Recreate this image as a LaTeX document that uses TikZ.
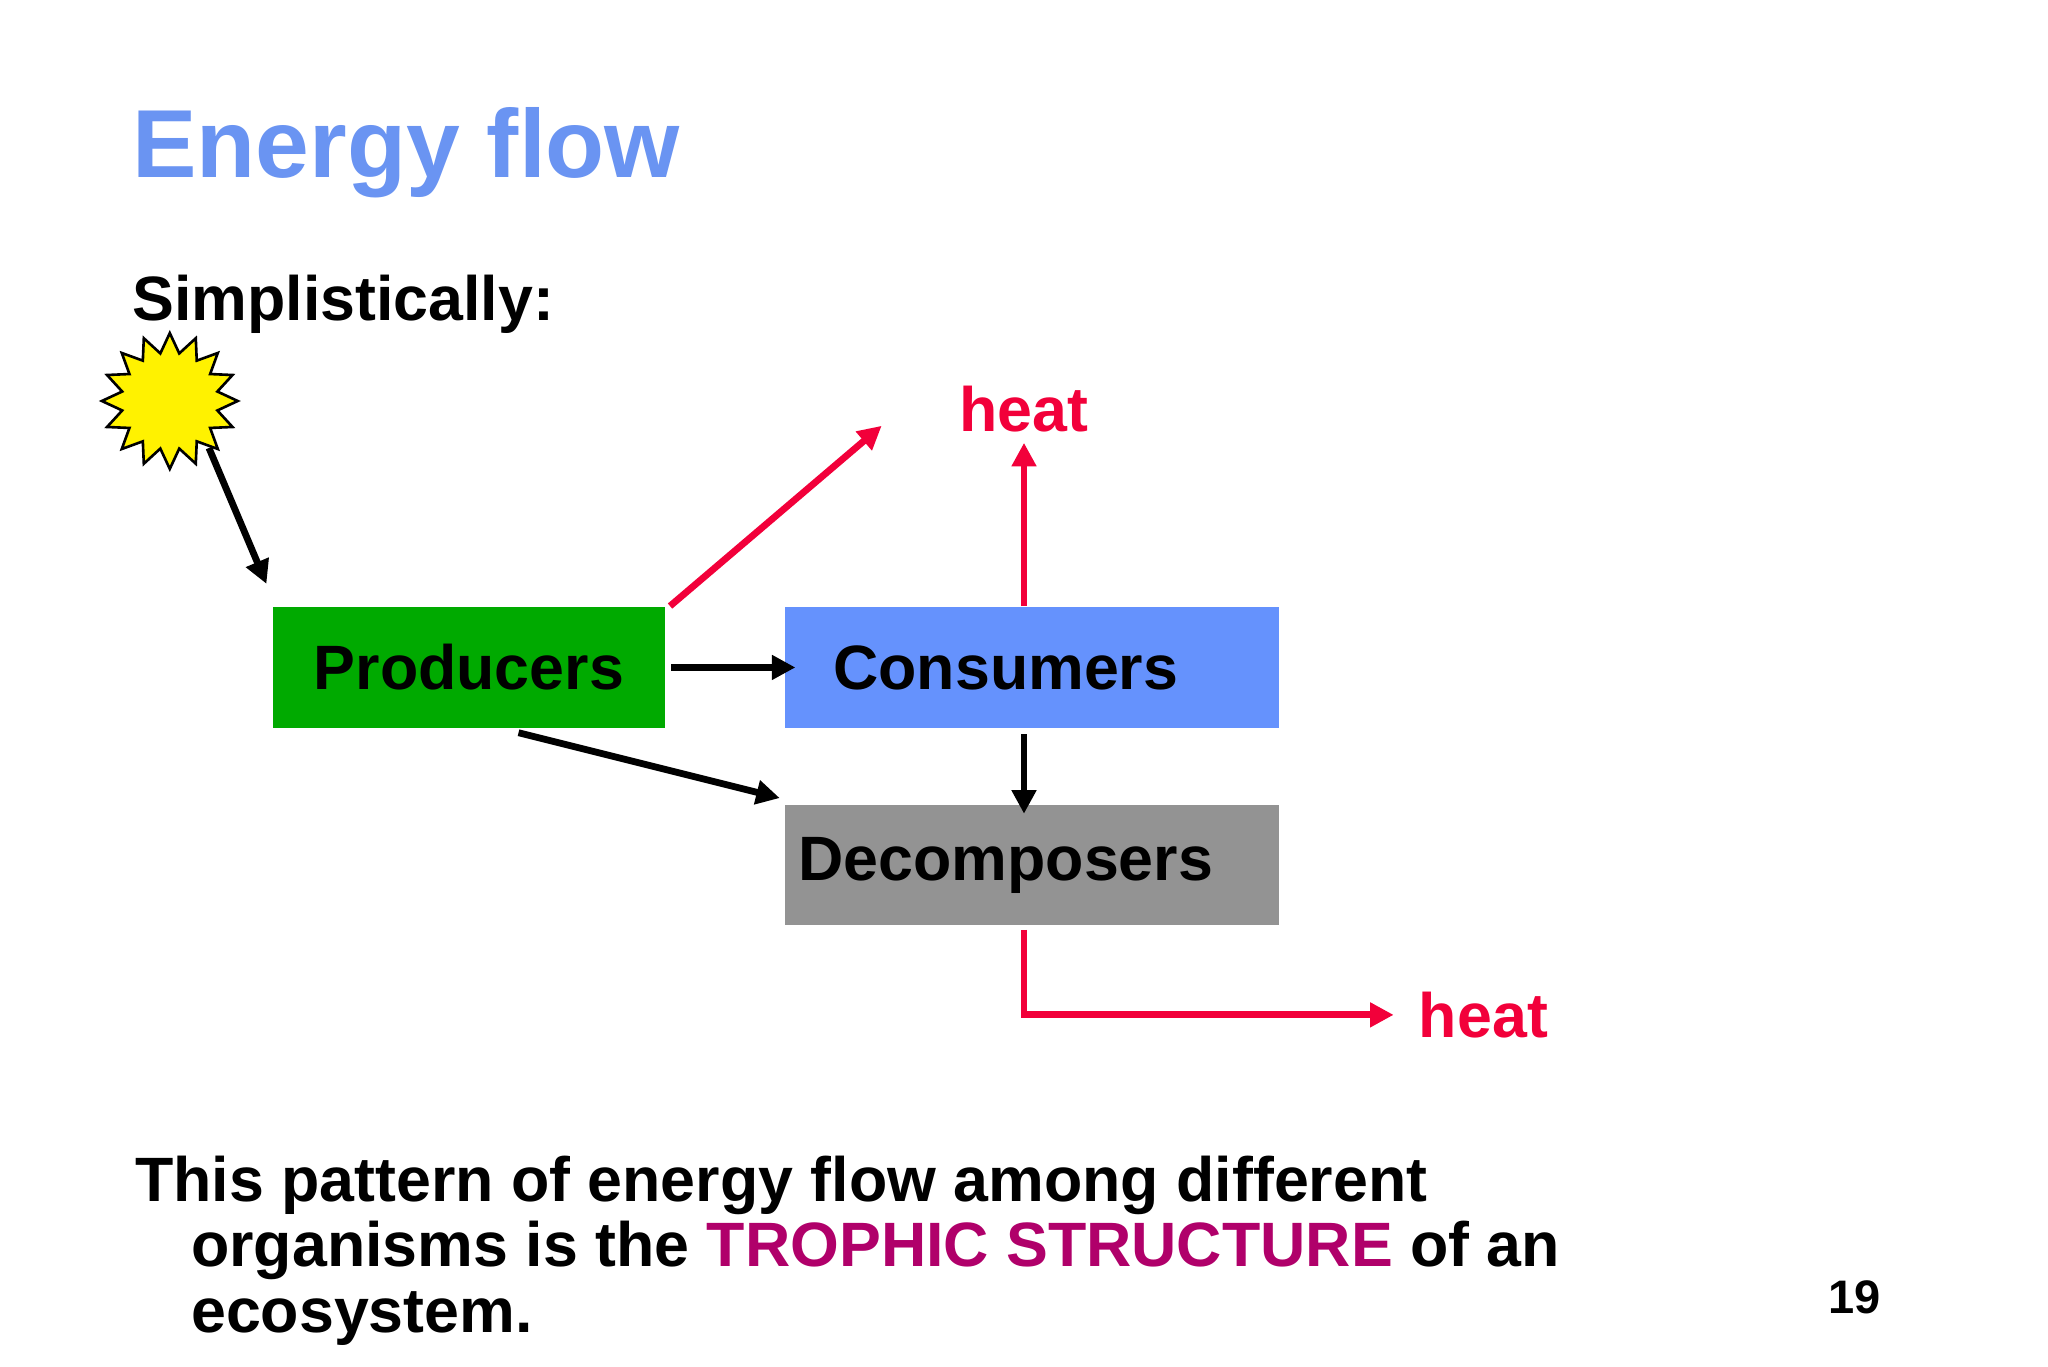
\documentclass[tikz,border=0pt]{standalone}
\usepackage{fontspec}
\setmainfont{Liberation Sans}
\usetikzlibrary{shapes.geometric,arrows.meta}
\definecolor{tblue}{HTML}{6A94F2}
\definecolor{cblue}{HTML}{6592FD}
\definecolor{pgreen}{HTML}{00AA00}
\definecolor{dgrey}{HTML}{939393}
\definecolor{hred}{HTML}{F2003A}
\definecolor{tmag}{HTML}{B0006A}
\begin{document}
\begin{tikzpicture}[x=0.5pt,y=-0.5pt,
  box/.style={draw=none,minimum width=150pt,minimum height=46pt,inner sep=0pt,font=\fontsize{24}{28}\selectfont\bfseries},
  blk/.style={line width=2.6pt,-{Triangle[length=9pt,width=9pt]}},
  red/.style={draw=hred,line width=2.6pt,-{Triangle[length=9pt,width=9pt]}},
  txt/.style={font=\fontsize{24}{28}\selectfont\bfseries,inner sep=0pt,anchor=base west}]
\useasboundingbox[fill=white] (0,0) rectangle (1568,1046);
\node[anchor=base west,inner sep=0pt,text=tblue,font=\fontsize{37}{40}\selectfont\bfseries] (title) at (101,136) {Energy flow};
\node[txt] (simp) at (101,245) {Simplistically:};
\node[star,star points=16,star point ratio=1.4,minimum size=52pt,draw=black,line width=1pt,fill=yellow,inner sep=0pt] (sun) at (130,307) {};
\node[box,fill=pgreen,minimum width=150pt] (prod) at (359,511) {Producers};
\node[box,fill=cblue,minimum width=189pt] (cons) at (790,511) {\hspace*{-20pt}Consumers};
\node[box,fill=dgrey,minimum width=189pt] (dec) at (790,662.5) {\hspace*{-20pt}Decomposers};
\coordinate (s1) at (160,343); \coordinate (s2) at (204,447);
\draw[blk] (s1) -- (s2);
\coordinate (p1) at (514,511); \coordinate (c1) at (609,511);
\draw[blk] (p1) -- (c1);
\coordinate (p2) at (397,561); \coordinate (d1) at (597,611);
\draw[blk] (p2) -- (d1);
\coordinate (c2) at (784,562); \coordinate (d2) at (784,623);
\draw[blk] (c2) -- (d2);
\coordinate (p3) at (513,464); \coordinate (h0) at (675,326);
\draw[red] (p3) -- (h0);
\node[anchor=base,inner sep=0pt,text=hred,font=\fontsize{24}{28}\selectfont\bfseries] (heat1) at (784,330) {heat};
\coordinate (c3) at (784,464); \coordinate (h1) at (784,339);
\draw[red] (c3) -- (h1);
\node[anchor=base west,inner sep=0pt,text=hred,font=\fontsize{24}{28}\selectfont\bfseries] (heat2) at (1086,794) {heat};
\coordinate (d3) at (784,712); \coordinate (h2) at (1067,777);
\draw[red] (d3) |- (h2);
\node[txt] (l1) at (103,920) {This pattern of energy flow among different};
\node[txt] (l2) at (146,970) {organisms is the \textcolor{tmag}{TROPHIC STRUCTURE} of an};
\node[txt] (l3) at (146,1020) {ecosystem.};
\node[anchor=base,inner sep=0pt,font=\fontsize{18}{20}\selectfont\bfseries] (pg) at (1420,1006) {19};
\end{tikzpicture}
\end{document}
